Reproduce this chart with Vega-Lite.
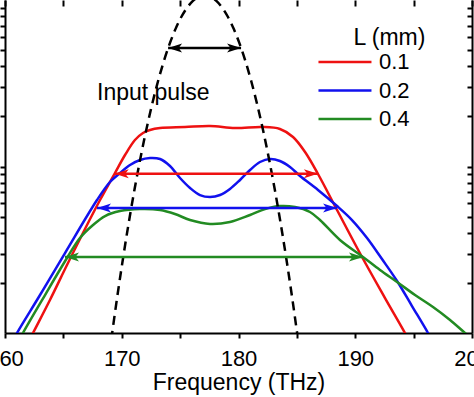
{
  "$schema": "https://vega.github.io/schema/vega-lite/v6.json",
  "width": 467,
  "height": 333,
  "autosize": {"type": "none"},
  "padding": {"left": 5, "top": 0, "right": 2, "bottom": 64},
  "background": "white",
  "config": {
    "view": {"stroke": null},
    "font": "Liberation Sans",
    "axis": {"grid": false, "domainColor": "black", "tickColor": "black", "domainWidth": 2, "tickWidth": 2, "labelColor": "black", "titleColor": "black"}
  },
  "datasets": {
    "curves": [
      {"L": "0.1", "f": 162.23, "v": 0.0946},
      {"L": "0.1", "f": 162.40, "v": 0.1},
      {"L": "0.1", "f": 163.85, "v": 0.1578},
      {"L": "0.1", "f": 165.31, "v": 0.2561},
      {"L": "0.1", "f": 166.85, "v": 0.4213},
      {"L": "0.1", "f": 168.14, "v": 0.629},
      {"L": "0.1", "f": 169.42, "v": 0.9141},
      {"L": "0.1", "f": 170.28, "v": 1.172},
      {"L": "0.1", "f": 171.13, "v": 1.443},
      {"L": "0.1", "f": 171.82, "v": 1.589},
      {"L": "0.1", "f": 172.42, "v": 1.656},
      {"L": "0.1", "f": 173.28, "v": 1.702},
      {"L": "0.1", "f": 175.42, "v": 1.726},
      {"L": "0.1", "f": 177.56, "v": 1.751},
      {"L": "0.1", "f": 179.70, "v": 1.702},
      {"L": "0.1", "f": 182.01, "v": 1.726},
      {"L": "0.1", "f": 183.55, "v": 1.680},
      {"L": "0.1", "f": 184.67, "v": 1.504},
      {"L": "0.1", "f": 185.70, "v": 1.222},
      {"L": "0.1", "f": 186.81, "v": 0.9016},
      {"L": "0.1", "f": 188.44, "v": 0.5479},
      {"L": "0.1", "f": 190.58, "v": 0.2861},
      {"L": "0.1", "f": 192.55, "v": 0.1622},
      {"L": "0.1", "f": 194.26, "v": 0.1},
      {"L": "0.1", "f": 194.43, "v": 0.0946},
      {"L": "0.2", "f": 160.86, "v": 0.0946},
      {"L": "0.2", "f": 161.03, "v": 0.1},
      {"L": "0.2", "f": 163.00, "v": 0.1691},
      {"L": "0.2", "f": 165.14, "v": 0.302},
      {"L": "0.2", "f": 167.88, "v": 0.629},
      {"L": "0.2", "f": 168.99, "v": 0.807},
      {"L": "0.2", "f": 169.85, "v": 0.9141},
      {"L": "0.2", "f": 170.71, "v": 1.021},
      {"L": "0.2", "f": 171.56, "v": 1.094},
      {"L": "0.2", "f": 172.42, "v": 1.125},
      {"L": "0.2", "f": 173.28, "v": 1.109},
      {"L": "0.2", "f": 174.13, "v": 1.007},
      {"L": "0.2", "f": 174.99, "v": 0.853},
      {"L": "0.2", "f": 175.85, "v": 0.743},
      {"L": "0.2", "f": 176.70, "v": 0.674},
      {"L": "0.2", "f": 177.56, "v": 0.656},
      {"L": "0.2", "f": 178.42, "v": 0.674},
      {"L": "0.2", "f": 179.27, "v": 0.733},
      {"L": "0.2", "f": 180.13, "v": 0.830},
      {"L": "0.2", "f": 180.99, "v": 0.953},
      {"L": "0.2", "f": 181.84, "v": 1.064},
      {"L": "0.2", "f": 182.70, "v": 1.109},
      {"L": "0.2", "f": 183.55, "v": 1.079},
      {"L": "0.2", "f": 184.41, "v": 0.993},
      {"L": "0.2", "f": 185.27, "v": 0.877},
      {"L": "0.2", "f": 186.81, "v": 0.723},
      {"L": "0.2", "f": 188.44, "v": 0.579},
      {"L": "0.2", "f": 189.72, "v": 0.477},
      {"L": "0.2", "f": 191.01, "v": 0.372},
      {"L": "0.2", "f": 192.29, "v": 0.278},
      {"L": "0.2", "f": 193.58, "v": 0.2052},
      {"L": "0.2", "f": 194.86, "v": 0.1452},
      {"L": "0.2", "f": 196.23, "v": 0.1},
      {"L": "0.2", "f": 196.40, "v": 0.0946},
      {"L": "0.4", "f": 161.37, "v": 0.0946},
      {"L": "0.4", "f": 161.54, "v": 0.1},
      {"L": "0.4", "f": 163.43, "v": 0.1691},
      {"L": "0.4", "f": 165.31, "v": 0.2821},
      {"L": "0.4", "f": 166.42, "v": 0.372},
      {"L": "0.4", "f": 167.54, "v": 0.445},
      {"L": "0.4", "f": 168.57, "v": 0.504},
      {"L": "0.4", "f": 169.85, "v": 0.540},
      {"L": "0.4", "f": 171.56, "v": 0.555},
      {"L": "0.4", "f": 173.28, "v": 0.5479},
      {"L": "0.4", "f": 174.56, "v": 0.5185},
      {"L": "0.4", "f": 175.85, "v": 0.477},
      {"L": "0.4", "f": 177.56, "v": 0.4515},
      {"L": "0.4", "f": 179.27, "v": 0.464},
      {"L": "0.4", "f": 180.99, "v": 0.5114},
      {"L": "0.4", "f": 182.27, "v": 0.555},
      {"L": "0.4", "f": 183.55, "v": 0.579},
      {"L": "0.4", "f": 184.84, "v": 0.571},
      {"L": "0.4", "f": 186.12, "v": 0.533},
      {"L": "0.4", "f": 186.98, "v": 0.477},
      {"L": "0.4", "f": 188.69, "v": 0.362},
      {"L": "0.4", "f": 190.66, "v": 0.2861},
      {"L": "0.4", "f": 192.12, "v": 0.239},
      {"L": "0.4", "f": 193.58, "v": 0.2024},
      {"L": "0.4", "f": 195.12, "v": 0.1691},
      {"L": "0.4", "f": 196.66, "v": 0.1432},
      {"L": "0.4", "f": 198.12, "v": 0.1197},
      {"L": "0.4", "f": 199.40, "v": 0.1},
      {"L": "0.4", "f": 199.83, "v": 0.0946}
    ],
    "pulse": [
      {"f": 169.1, "v": 0.0912},
      {"f": 169.6, "v": 0.1623},
      {"f": 170.1, "v": 0.2784},
      {"f": 170.6, "v": 0.4599},
      {"f": 171.1, "v": 0.7319},
      {"f": 171.6, "v": 1.122},
      {"f": 172.1, "v": 1.658},
      {"f": 172.6, "v": 2.361},
      {"f": 173.1, "v": 3.238},
      {"f": 173.6, "v": 4.280},
      {"f": 174.1, "v": 5.450},
      {"f": 174.6, "v": 6.685},
      {"f": 175.1, "v": 7.906},
      {"f": 175.6, "v": 9.002},
      {"f": 176.1, "v": 9.880},
      {"f": 176.6, "v": 10.447},
      {"f": 177.1, "v": 10.64},
      {"f": 177.6, "v": 10.447},
      {"f": 178.1, "v": 9.880},
      {"f": 178.6, "v": 9.002},
      {"f": 179.1, "v": 7.906},
      {"f": 179.6, "v": 6.685},
      {"f": 180.1, "v": 5.450},
      {"f": 180.6, "v": 4.280},
      {"f": 181.1, "v": 3.238},
      {"f": 181.6, "v": 2.361},
      {"f": 182.1, "v": 1.658},
      {"f": 182.6, "v": 1.122},
      {"f": 183.1, "v": 0.7319},
      {"f": 183.6, "v": 0.4599},
      {"f": 184.1, "v": 0.2784},
      {"f": 184.6, "v": 0.1623},
      {"f": 185.1, "v": 0.0912}
    ],
    "arrows": [
      {"L": "in", "f1": 173.97, "f2": 180.22, "v": 5.148},
      {"L": "0.1", "f1": 169.4, "f2": 186.8, "v": 0.905},
      {"L": "0.2", "f1": 167.88, "f2": 188.44, "v": 0.5634},
      {"L": "0.4", "f1": 165.14, "f2": 190.66, "v": 0.2861}
    ],
    "heads": [
      {"L": "in", "dir": "left", "f": 173.97, "v": 5.148},
      {"L": "in", "dir": "right", "f": 180.22, "v": 5.148},
      {"L": "0.1", "dir": "left", "f": 169.4, "v": 0.905},
      {"L": "0.1", "dir": "right", "f": 186.8, "v": 0.905},
      {"L": "0.2", "dir": "left", "f": 167.88, "v": 0.5634},
      {"L": "0.2", "dir": "right", "f": 188.44, "v": 0.5634},
      {"L": "0.4", "dir": "left", "f": 165.14, "v": 0.2861},
      {"L": "0.4", "dir": "right", "f": 190.66, "v": 0.2861}
    ],
    "notes": [
      {"f": 167.88, "v": 2.508, "t": "Input pulse"}
    ]
  },
  "layer": [
    {
      "data": {"name": "curves"},
      "mark": {"type": "line", "strokeWidth": 2.5, "clip": true, "interpolate": "catmull-rom"},
      "encoding": {
        "x": {
          "field": "f", "type": "quantitative",
          "scale": {"domain": [160, 200], "nice": false, "zero": false},
          "axis": {
            "orient": "bottom",
            "values": [160, 165, 170, 175, 180, 185, 190, 195, 200],
            "labelExpr": "datum.value % 10 === 0 ? datum.label : ''",
            "labelFontSize": 22,
            "labelBaseline": "alphabetic",
            "labelPadding": 27,
            "labelFlush": false,
            "labelOverlap": false,
            "labelBound": false,
            "tickSize": 5,
            "title": "Frequency (THz)",
            "titleFontSize": 23,
            "titleFontWeight": "normal",
            "titleBaseline": "alphabetic",
            "titleY": 56
          }
        },
        "y": {
          "field": "v", "type": "quantitative",
          "scale": {"type": "log", "domain": [0.1, 10], "nice": false},
          "axis": {
            "orient": "left",
            "values": [0.2, 0.3, 0.4, 0.5, 0.6, 0.7, 0.8, 0.9, 1, 2, 3, 4, 5, 6, 7, 8, 9],
            "labels": false,
            "tickSize": 5,
            "title": null
          }
        },
        "color": {
          "field": "L", "type": "nominal",
          "scale": {"domain": ["0.1", "0.2", "0.4"], "range": ["#ee1111", "#1111ee", "#228b22"]},
          "legend": {
            "orient": "none",
            "legendX": 348.4,
            "legendY": 27,
            "padding": 0,
            "title": "L (mm)",
            "titleFontSize": 23,
            "titleFontWeight": "normal",
            "titleColor": "black",
            "titleAnchor": "start",
            "titlePadding": 1,
            "labelFontSize": 22,
            "labelColor": "black",
            "symbolType": "M-5.2,0H0.8",
            "symbolSize": 312,
            "symbolStrokeWidth": 2.5,
            "labelOffset": 3.6,
            "rowPadding": 6.5
          }
        }
      }
    },
    {
      "data": {"name": "pulse"},
      "mark": {"type": "line", "strokeWidth": 2.5, "color": "black", "strokeDash": [9, 6], "clip": true, "interpolate": "catmull-rom"},
      "encoding": {
        "x": {
          "field": "f", "type": "quantitative",
          "scale": {"domain": [160, 200], "nice": false, "zero": false},
          "axis": {
            "orient": "top",
            "values": [160, 165, 170, 175, 180, 185, 190, 195, 200],
            "labels": false,
            "domain": false,
            "tickSize": -6,
            "title": null
          }
        },
        "y": {
          "field": "v", "type": "quantitative",
          "scale": {"type": "log", "domain": [0.1, 10], "nice": false},
          "axis": {
            "orient": "right",
            "values": [0.2, 0.3, 0.4, 0.5, 0.6, 0.7, 0.8, 0.9, 1, 2, 3, 4, 5, 6, 7, 8, 9],
            "labels": false,
            "tickSize": -5,
            "title": null
          }
        }
      }
    },
    {
      "data": {"name": "arrows"},
      "mark": {"type": "rule", "strokeWidth": 2.5, "clip": true},
      "encoding": {
        "x": {"field": "f1", "type": "quantitative", "axis": null},
        "x2": {"field": "f2"},
        "y": {"field": "v", "type": "quantitative", "axis": null},
        "stroke": {
          "field": "L", "type": "nominal",
          "scale": {"domain": ["0.1", "0.2", "0.4", "in"], "range": ["#ee1111", "#1111ee", "#228b22", "black"]},
          "legend": null
        }
      }
    },
    {
      "data": {"name": "heads"},
      "mark": {"type": "point", "filled": true, "opacity": 1, "size": 196, "strokeWidth": 0, "clip": true},
      "encoding": {
        "x": {"field": "f", "type": "quantitative", "axis": null},
        "y": {"field": "v", "type": "quantitative", "axis": null},
        "fill": {
          "field": "L", "type": "nominal",
          "scale": {"domain": ["0.1", "0.2", "0.4", "in"], "range": ["#ee1111", "#1111ee", "#228b22", "black"]},
          "legend": null
        },
        "shape": {
          "field": "dir", "type": "nominal",
          "scale": {"domain": ["left", "right"], "range": ["M0,0L2,-0.65L1.5,0L2,0.65Z", "M0,0L-2,-0.65L-1.5,0L-2,0.65Z"]},
          "legend": null
        }
      }
    },
    {
      "data": {"name": "notes"},
      "mark": {"type": "text", "align": "left", "baseline": "alphabetic", "fontSize": 23, "font": "Liberation Sans", "color": "black"},
      "encoding": {
        "x": {"field": "f", "type": "quantitative", "axis": null},
        "y": {"field": "v", "type": "quantitative", "axis": null},
        "text": {"field": "t"}
      }
    }
  ],
  "resolve": {"axis": {"x": "independent", "y": "independent"}}
}
